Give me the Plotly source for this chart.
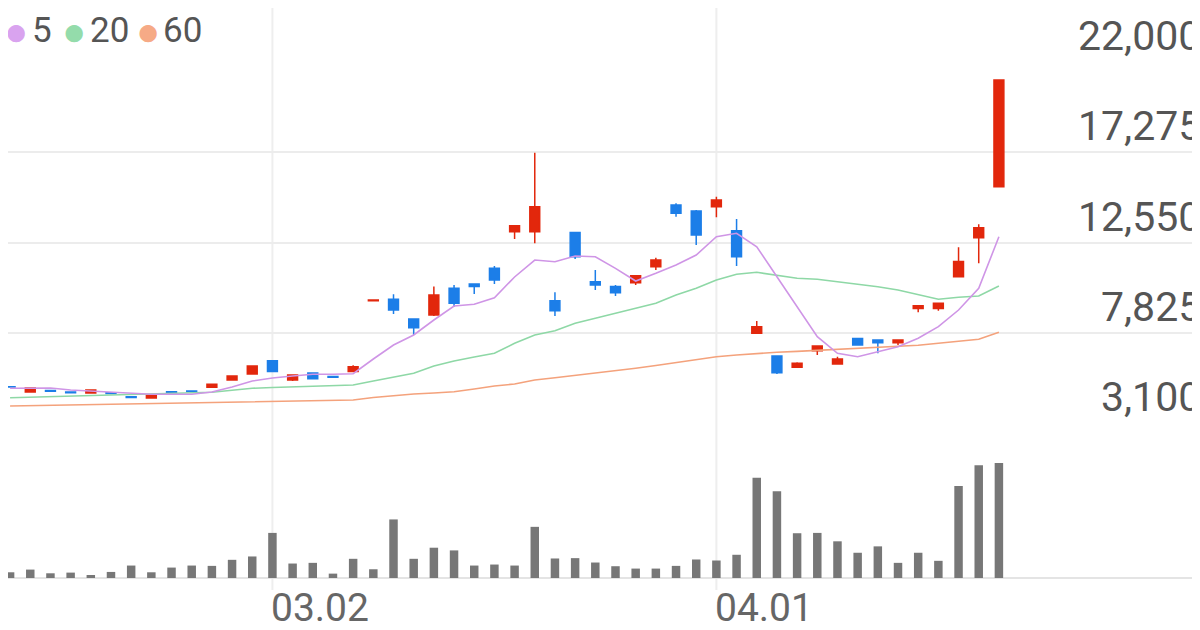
import plotly.graph_objects as go

idx = list(range(50))
opens = [5000,4720,4800,4720,4670,4680,4470,4410,4730,4780,4970,5350,5660,6360,5350,5720,5540,5790,9500,9580,
         8545,8750,10150,10380,11200,13110,13110,9500,13080,10500,10240,10440,11280,14510,14200,14420,13170,7800,6610,6020,
         6880,6190,7530,7450,7300,9100,9100,10760,12800,15470]
closes = [4980,4930,4760,4680,4830,4640,4430,4570,4700,4750,5130,5560,6080,5790,5610,5420,5500,6050,9540,9020,
          8090,9800,9370,10240,10590,13430,14420,8980,11800,10330,9920,10810,11630,14080,12940,14770,11800,8140,5730,6230,
          7130,6450,7180,7300,7450,9240,9370,11550,13320,21060]
highs = [5020,4950,4820,4740,4850,4700,4490,4590,4750,4790,5150,5580,6100,6380,5630,5740,5560,6120,9560,9840,
         8560,10240,10320,10400,11320,13450,17250,9940,13100,11110,10320,10830,11750,14600,14250,14950,13780,8440,6640,6280,
         7150,6570,7550,7470,7470,9260,9390,12300,13500,21080]
lows = [4960,4700,4740,4660,4650,4620,4410,4380,4680,4730,4950,5330,5640,5770,5300,5400,5480,5770,9480,8810,
        7710,8700,9190,9850,10380,12730,12510,8700,11690,10060,9750,10320,11110,13900,12420,13870,11320,7790,5670,6000,
        6660,6170,7160,6750,7180,8900,8980,10760,11460,15450]
volume = [17,25,14,16,9,18,37,17,31,37,36,54,64,134,43,45,13,57,26,174,
          57,90,82,37,40,37,152,58,59,46,35,28,28,36,55,52,69,298,258,133,
          134,109,75,94,45,75,51,273,335,342]
ma5 = [4917,4932,4932,4828,4775,4697,4634,4602,4602,4602,4723,4985,5299,5456,5560,5649,5649,5681,6450,7183,
       7707,8492,9225,9314,9660,10743,11633,11544,11842,11806,11198,10534,10937,11371,11895,12853,13031,12329,10759,9188,
       7618,6749,6571,6833,7094,7534,8141,9016,10151,12853]
ma20 = [4424,4451,4477,4503,4534,4566,4592,4618,4655,4681,4707,4812,4917,4958,4995,5037,5063,5089,5299,5508,
        5702,6084,6346,6555,6749,7272,7707,7932,8319,8581,8843,9105,9366,9801,10151,10586,10884,10989,10848,10675,
        10623,10497,10377,10235,10063,9837,9576,9680,9748,10272]
ma60 = [3990,4006,4027,4042,4063,4084,4100,4121,4137,4157,4173,4194,4210,4231,4246,4267,4283,4304,4435,4540,
        4618,4671,4739,4880,5037,5142,5351,5471,5587,5707,5822,5964,6110,6262,6414,6571,6660,6749,6801,6848,
        6901,6953,7011,7063,7120,7173,7272,7377,7482,7848]
price_ticks = [3100, 7825, 12550, 17275, 22000]
price_labels = ["3,100", "7,825", "12,550", "17,275", "22,000"]
date_pos = [13, 35]
date_labels = ["03.02", "04.01"]
ma_names = ["5", "20", "60"]
ma_colors = ["#cf95e6", "#8ed8a6", "#f4a27c"]
dot_colors = ["#d9a3ef", "#94dcab", "#f6aa86"]

RED, BLUE = "#e2270c", "#1c7ee8"
OFF = 8  # page body margin
W, H = 1200, 630
def py(y):
    return 1 - (y - OFF) / H
def px(x):
    return (x - OFF) / W

fig = go.Figure()
fig.add_trace(go.Candlestick(x=idx, open=opens, high=highs, low=lows, close=closes,
    increasing=dict(line=dict(color=RED, width=1.5), fillcolor=RED),
    decreasing=dict(line=dict(color=BLUE, width=1.5), fillcolor=BLUE),
    whiskerwidth=0, yaxis="y", xaxis="x", showlegend=False, hoverinfo="skip"))
for vals, c in zip([ma60, ma20, ma5], [ma_colors[2], ma_colors[1], ma_colors[0]]):
    fig.add_trace(go.Scatter(x=idx, y=vals, mode="lines", line=dict(color=c, width=1.6),
                             yaxis="y", showlegend=False, hoverinfo="skip"))
fig.add_trace(go.Bar(x=idx, y=volume, yaxis="y2", marker=dict(color="#777777", line_width=0),
                     width=0.42, showlegend=False, hoverinfo="skip"))

step = 20.18
x0 = -0.5 + OFF / step
fig.update_layout(
    width=W, height=H, margin=dict(l=0, r=0, t=0, b=0),
    paper_bgcolor="white", plot_bgcolor="white",
    xaxis=dict(range=[x0, x0 + W / step], showgrid=False, showticklabels=False, zeroline=False,
               rangeslider=dict(visible=False), fixedrange=True),
    yaxis=dict(domain=[py(423), py(62)], range=[3100, 22000], tickvals=price_ticks,
               showticklabels=False, gridcolor="#ececec", gridwidth=2, zeroline=False),
    yaxis2=dict(domain=[py(578), py(440)], range=[0, 410], showgrid=False,
                showticklabels=False, zeroline=False),
    font=dict(family="Roboto", color="#555555"),
)
shapes = []
for p in date_pos:
    shapes.append(dict(type="line", xref="x", yref="paper", x0=p, x1=p, y0=py(590), y1=1,
                       line=dict(color="#eeeeee", width=2), layer="below"))
shapes.append(dict(type="line", xref="paper", yref="paper", x0=0, x1=1, y0=py(578), y1=py(578),
                   line=dict(color="#e4e4e4", width=2), layer="below"))
fig.update_layout(shapes=shapes)

ann = []
for v, t in zip(price_ticks, price_labels):
    ann.append(dict(x=px(1203), xref="paper", y=v, yref="y", text=t, showarrow=False,
                    xanchor="right", yanchor="bottom", yshift=0, font=dict(size=41, color="#555555")))
for p, t in zip(date_pos, date_labels):
    ann.append(dict(x=p, xref="x", y=py(608), yref="paper", text=t, showarrow=False, xshift=-3,
                    xanchor="left", yanchor="middle", font=dict(size=39, color="#666666")))
dot_x = [16, 74, 148]
txt_x = [30, 88, 161]
for n, c, dx, tx in zip(ma_names, dot_colors, dot_x, txt_x):
    ann.append(dict(x=px(dx), xref="paper", xanchor="center", y=py(32), yref="paper", yanchor="middle",
                    text="●", showarrow=False, font=dict(size=40, color=c)))
    ann.append(dict(x=px(tx), xref="paper", xanchor="left", y=py(31), yref="paper", yanchor="middle",
                    text=n, showarrow=False, font=dict(size=35, color="#555555")))
fig.update_layout(annotations=ann)
fig.write_html("out.html")
